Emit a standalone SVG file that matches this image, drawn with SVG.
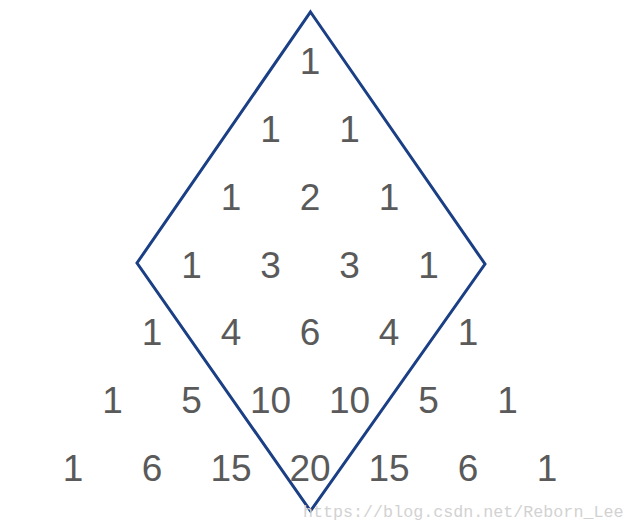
<svg xmlns="http://www.w3.org/2000/svg" width="635" height="532" viewBox="0 0 635 532">
<style>
.n{font-family:"Liberation Sans",Arial,sans-serif;font-size:37px;fill:#5a5a5a;text-anchor:middle}
.wm{font-family:"Liberation Mono","Courier New",monospace;font-size:16.7px;fill:#d2d2d2}
</style>
<rect width="635" height="532" fill="#fff"/>
<g id="numbers">
<text class="n" x="310" y="74">1</text>
<text class="n" x="270.5" y="142">1</text><text class="n" x="349.5" y="142">1</text>
<text class="n" x="231" y="210">1</text><text class="n" x="310" y="210">2</text><text class="n" x="389" y="210">1</text>
<text class="n" x="191.5" y="278">1</text><text class="n" x="270.5" y="278">3</text><text class="n" x="349.5" y="278">3</text><text class="n" x="428.5" y="278">1</text>
<text class="n" x="152" y="345">1</text><text class="n" x="231" y="345">4</text><text class="n" x="310" y="345">6</text><text class="n" x="389" y="345">4</text><text class="n" x="468" y="345">1</text>
<text class="n" x="112.5" y="413">1</text><text class="n" x="191.5" y="413">5</text><text class="n" x="270.5" y="413">10</text><text class="n" x="349.5" y="413">10</text><text class="n" x="428.5" y="413">5</text><text class="n" x="507.5" y="413">1</text>
<text class="n" x="73" y="481">1</text><text class="n" x="152" y="481">6</text><text class="n" x="231" y="481">15</text><text class="n" x="310" y="481">20</text><text class="n" x="389" y="481">15</text><text class="n" x="468" y="481">6</text><text class="n" x="547" y="481">1</text>
</g>
<g id="diamond">
<polygon points="310.5,12 485,264 310.5,511 137,263" fill="none" stroke="#1a3f85" stroke-width="3" stroke-linejoin="miter"/>
</g>
<text class="wm" x="303" y="517">https://blog.csdn.net/Reborn_Lee</text>
</svg>
